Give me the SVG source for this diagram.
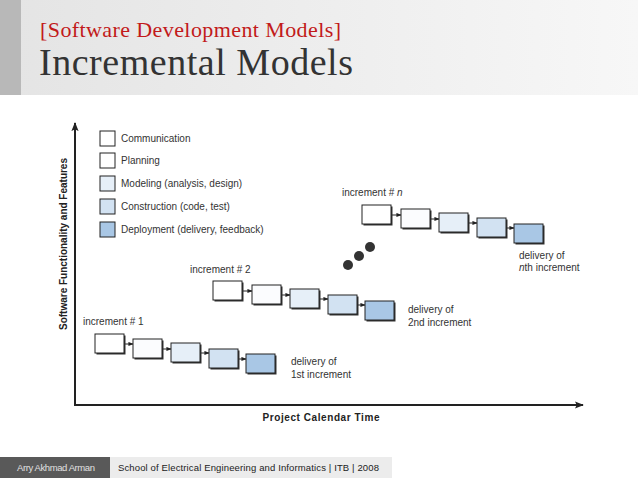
<svg xmlns="http://www.w3.org/2000/svg" width="638" height="478" viewBox="0 0 638 478">
<defs>
<linearGradient id="hdr" x1="0" y1="0" x2="1" y2="0">
<stop offset="0" stop-color="#e4e4e4"/>
<stop offset="1" stop-color="#f7f7f7"/>
</linearGradient>
<marker id="ah" viewBox="0 0 6 6" refX="5.5" refY="3" markerWidth="5" markerHeight="5" orient="auto" markerUnits="userSpaceOnUse">
<path d="M0,0.5 L6,3 L0,5.5 z" fill="#222"/>
</marker>
<marker id="axh" viewBox="0 0 10 10" refX="9" refY="5" markerWidth="9" markerHeight="9" orient="auto" markerUnits="userSpaceOnUse">
<path d="M0,1 L10,5 L0,9 L2,5 z" fill="#222"/>
</marker>
<style>
.t{font-family:"Liberation Sans",Arial,sans-serif;font-size:10px;fill:#333}
.b{font-family:"Liberation Sans",Arial,sans-serif;font-weight:bold;font-size:10px;fill:#222}
.bx{stroke:#222;stroke-width:1}
.sh{fill:#333}
.c1{fill:#ffffff}.c2{fill:#fbfcfe}.c3{fill:#e6eff8}.c4{fill:#d2e2f2}.c5{fill:#a9c7e5}
.cn{stroke:#222;stroke-width:1;fill:none}
.ft{font-family:"Liberation Sans",Arial,sans-serif;font-size:9.5px}
</style>
</defs>
<rect width="638" height="478" fill="#fff"/>
<rect x="0" y="0" width="638" height="95" fill="url(#hdr)"/>
<rect x="0" y="0" width="21" height="95" fill="#b8b8b8"/>
<text x="40" y="37" font-family="'Liberation Serif','Times New Roman',serif" font-size="22" fill="#c21a1a" textLength="301">[Software Development Models]</text>
<text x="39" y="75" font-family="'Liberation Serif','Times New Roman',serif" font-size="38" fill="#333" textLength="314">Incremental Models</text>

<g id="axes">
<path d="M75,406 L75,123" stroke="#222" stroke-width="2" fill="none" marker-end="url(#axh)"/>
<path d="M74,405 L583,405" stroke="#222" stroke-width="2" fill="none" marker-end="url(#axh)"/>
<text class="b" transform="translate(67,244) rotate(-90)" text-anchor="middle" font-size="10" textLength="172">Software Functionality and Features</text>
<text class="b" x="321" y="421" text-anchor="middle" font-size="10.5" textLength="117">Project Calendar Time</text>
</g>

<g id="legend">
<rect x="100" y="131" width="15" height="15" class="bx c1"/>
<rect x="100" y="153" width="15" height="15" class="bx c1"/>
<rect x="100" y="176" width="15" height="15" class="bx c3"/>
<rect x="100" y="199" width="15" height="15" class="bx c4"/>
<rect x="100" y="222" width="15" height="15" class="bx c5"/>
<text class="t" x="121" y="142">Communication</text>
<text class="t" x="121" y="164">Planning</text>
<text class="t" x="121" y="187">Modeling (analysis, design)</text>
<text class="t" x="121" y="210">Construction (code, test)</text>
<text class="t" x="121" y="233">Deployment (delivery, feedback)</text>
</g>

<g id="connectors">
<path class="cn" d="M124,344 L133,344" marker-end="url(#ah)"/>
<path class="cn" d="M162,349 L171,349" marker-end="url(#ah)"/>
<path class="cn" d="M200,353 L209,353" marker-end="url(#ah)"/>
<path class="cn" d="M238,359 L246,359" marker-end="url(#ah)"/>
<path class="cn" d="M242,291 L252,291" marker-end="url(#ah)"/>
<path class="cn" d="M281,295 L290,295" marker-end="url(#ah)"/>
<path class="cn" d="M319,299 L328,299" marker-end="url(#ah)"/>
<path class="cn" d="M357,305 L365,305" marker-end="url(#ah)"/>
<path class="cn" d="M391,215 L401,215" marker-end="url(#ah)"/>
<path class="cn" d="M430,219 L439,219" marker-end="url(#ah)"/>
<path class="cn" d="M468,223 L477,223" marker-end="url(#ah)"/>
<path class="cn" d="M506,228 L514,228" marker-end="url(#ah)"/>
</g>

<g id="inc1">
<text class="t" x="83" y="325">increment # 1</text>
<g id="inc1-b1"><rect class="sh" x="96.5" y="335.5" width="29" height="19"/><rect class="bx c1" x="95" y="334" width="29" height="19"/></g>
<g id="inc1-b2"><rect class="sh" x="134.5" y="340.5" width="29" height="19"/><rect class="bx c2" x="133" y="339" width="29" height="19"/></g>
<g id="inc1-b3"><rect class="sh" x="172.5" y="344.5" width="29" height="19"/><rect class="bx c3" x="171" y="343" width="29" height="19"/></g>
<g id="inc1-b4"><rect class="sh" x="210.5" y="350.5" width="29" height="19"/><rect class="bx c4" x="209" y="349" width="29" height="19"/></g>
<g id="inc1-b5"><rect class="sh" x="247.5" y="355.5" width="29" height="19"/><rect class="bx c5" x="246" y="354" width="29" height="19"/></g>
<text class="t" x="291" y="365">delivery of</text>
<text class="t" x="291" y="378">1st increment</text>
</g>

<g id="inc2">
<text class="t" x="190" y="273">increment # 2</text>
<g id="inc2-b1"><rect class="sh" x="214.5" y="282.5" width="29" height="19"/><rect class="bx c1" x="213" y="281" width="29" height="19"/></g>
<g id="inc2-b2"><rect class="sh" x="253.5" y="286.5" width="29" height="19"/><rect class="bx c2" x="252" y="285" width="29" height="19"/></g>
<g id="inc2-b3"><rect class="sh" x="291.5" y="290.5" width="29" height="19"/><rect class="bx c3" x="290" y="289" width="29" height="19"/></g>
<g id="inc2-b4"><rect class="sh" x="329.5" y="296.5" width="29" height="19"/><rect class="bx c4" x="328" y="295" width="29" height="19"/></g>
<g id="inc2-b5"><rect class="sh" x="366.5" y="302.5" width="29" height="19"/><rect class="bx c5" x="365" y="301" width="29" height="19"/></g>
<text class="t" x="408" y="313">delivery of</text>
<text class="t" x="408" y="326">2nd increment</text>
</g>

<g id="dots">
<circle cx="348" cy="265" r="5" fill="#333"/>
<circle cx="359" cy="256" r="5" fill="#333"/>
<circle cx="370" cy="247" r="5" fill="#333"/>
</g>

<g id="incn">
<text class="t" x="342" y="196">increment # <tspan font-style="italic">n</tspan></text>
<g id="incn-b1"><rect class="sh" x="363.5" y="206.5" width="29" height="19"/><rect class="bx c1" x="362" y="205" width="29" height="19"/></g>
<g id="incn-b2"><rect class="sh" x="402.5" y="210.5" width="29" height="19"/><rect class="bx c2" x="401" y="209" width="29" height="19"/></g>
<g id="incn-b3"><rect class="sh" x="440.5" y="214.5" width="29" height="19"/><rect class="bx c3" x="439" y="213" width="29" height="19"/></g>
<g id="incn-b4"><rect class="sh" x="478.5" y="219.5" width="29" height="19"/><rect class="bx c4" x="477" y="218" width="29" height="19"/></g>
<g id="incn-b5"><rect class="sh" x="515.5" y="225.5" width="29" height="19"/><rect class="bx c5" x="514" y="224" width="29" height="19"/></g>
<text class="t" x="519" y="259">delivery of</text>
<text class="t" x="519" y="271"><tspan font-style="italic">n</tspan>th increment</text>
</g>

<g id="footer">
<rect x="0" y="457" width="110" height="21" fill="#595959"/>
<rect x="110" y="457" width="282" height="21" fill="#ececec"/>
<text class="ft" x="17" y="471" fill="#e0e0e0" textLength="78">Arry Akhmad Arman</text>
<text class="ft" x="118" y="471" fill="#222" textLength="261">School of Electrical Engineering and Informatics | ITB | 2008</text>
</g>
</svg>
